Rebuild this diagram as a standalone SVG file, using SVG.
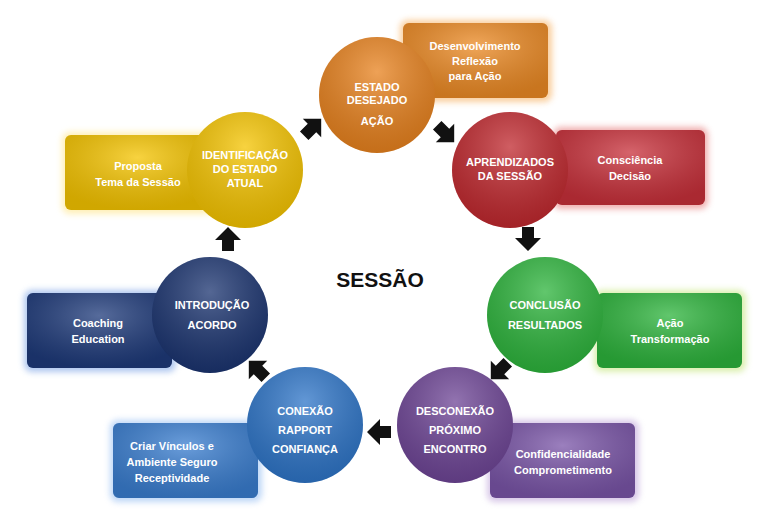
<svg xmlns="http://www.w3.org/2000/svg" width="768" height="529" viewBox="0 0 768 529">
<defs>
<filter id="glow" x="-20%" y="-20%" width="140%" height="140%"><feGaussianBlur stdDeviation="3"/></filter>
<radialGradient id="hl" cx="0.5" cy="0.3" r="0.7"><stop offset="0" stop-color="#fff" stop-opacity="0.25"/><stop offset="1" stop-color="#000" stop-opacity="0.15"/></radialGradient>
<polygon id="arr" points="-11,-6 0,-6 0,-13 13,0 0,13 0,6 -11,6"/>
</defs>
<style>
text{font-family:"Liberation Sans",Arial,sans-serif;font-weight:bold;fill:#fff;font-size:11px;text-anchor:middle}
.c{stroke:none}
.g{filter:url(#glow);opacity:0.5}
</style>
<rect width="768" height="529" fill="#fff"/>
<text x="380" y="287" style="fill:#111;font-size:21px">SESSÃO</text>
<g id="orange">
<rect class="g" x="400" y="20" width="152" height="82" rx="8" fill="#F5A040"/>
<rect x="403" y="23" width="145" height="75" rx="6" fill="#EC8A24"/><rect x="403" y="23" width="145" height="75" rx="6" fill="url(#hl)"/>
<text x="475" y="50">Desenvolvimento</text><text x="475" y="65">Reflexão</text><text x="475" y="80">para Ação</text>
<circle cx="377" cy="95" r="58" fill="#E8821E"/><circle cx="377" cy="95" r="58" fill="url(#hl)"/>
<text x="377" y="91">ESTADO</text><text x="377" y="104">DESEJADO</text><text x="377" y="125">AÇÃO</text>
</g>
<g id="red">
<rect class="g" x="553" y="127" width="155" height="82" rx="8" fill="#E06060"/>
<rect x="556" y="130" width="149" height="75" rx="6" fill="#C8303A"/><rect x="556" y="130" width="149" height="75" rx="6" fill="url(#hl)"/>
<text x="630" y="164">Consciência</text><text x="630" y="180">Decisão</text>
<circle cx="510" cy="170" r="58" fill="#C0282E"/><circle cx="510" cy="170" r="58" fill="url(#hl)"/>
<text x="510" y="166">APRENDIZADOS</text><text x="510" y="180">DA SESSÃO</text>
</g>
<g id="green">
<rect class="g" x="594" y="290" width="152" height="82" rx="8" fill="#B8E060"/>
<rect x="597" y="293" width="145" height="75" rx="6" fill="#2DB43C"/><rect x="597" y="293" width="145" height="75" rx="6" fill="url(#hl)"/>
<text x="670" y="327">Ação</text><text x="670" y="343">Transformação</text>
<circle cx="545" cy="315" r="58" fill="#2DB43C"/><circle cx="545" cy="315" r="58" fill="url(#hl)"/>
<text x="545" y="309">CONCLUSÃO</text><text x="545" y="329">RESULTADOS</text>
</g>
<g id="purple">
<rect class="g" x="487" y="420" width="152" height="82" rx="8" fill="#B090D0"/>
<rect x="490" y="423" width="145" height="75" rx="6" fill="#7A55A8"/><rect x="490" y="423" width="145" height="75" rx="6" fill="url(#hl)"/>
<text x="563" y="458">Confidencialidade</text><text x="563" y="474">Comprometimento</text>
<circle cx="455" cy="425" r="58" fill="#6E4596"/><circle cx="455" cy="425" r="58" fill="url(#hl)"/>
<text x="455" y="415">DESCONEXÃO</text><text x="455" y="434">PRÓXIMO</text><text x="455" y="453">ENCONTRO</text>
</g>
<g id="blue">
<rect class="g" x="110" y="420" width="152" height="82" rx="8" fill="#80B0F0"/>
<rect x="113" y="423" width="145" height="75" rx="6" fill="#3A7ED0"/><rect x="113" y="423" width="145" height="75" rx="6" fill="url(#hl)"/>
<text x="172" y="450">Criar Vínculos e</text><text x="172" y="466">Ambiente Seguro</text><text x="172" y="482">Receptividade</text>
<circle cx="305" cy="425" r="58" fill="#2E75C8"/><circle cx="305" cy="425" r="58" fill="url(#hl)"/>
<text x="305" y="415">CONEXÃO</text><text x="305" y="434">RAPPORT</text><text x="305" y="453">CONFIANÇA</text>
</g>
<g id="navy">
<rect class="g" x="24" y="290" width="152" height="82" rx="8" fill="#6090E0"/>
<rect x="27" y="293" width="145" height="75" rx="6" fill="#1E3A7A"/><rect x="27" y="293" width="145" height="75" rx="6" fill="url(#hl)"/>
<text x="98" y="327">Coaching</text><text x="98" y="343">Education</text>
<circle cx="210" cy="315" r="58" fill="#1B3470"/><circle cx="210" cy="315" r="58" fill="url(#hl)"/>
<text x="212" y="309">INTRODUÇÃO</text><text x="212" y="329">ACORDO</text>
</g>
<g id="yellow">
<rect class="g" x="62" y="132" width="152" height="82" rx="8" fill="#FFE070"/>
<rect x="65" y="135" width="145" height="75" rx="6" fill="#F5C400"/><rect x="65" y="135" width="145" height="75" rx="6" fill="url(#hl)"/>
<text x="138" y="170">Proposta</text><text x="138" y="186">Tema da Sessão</text>
<circle cx="245" cy="170" r="58" fill="#F5C400"/><circle cx="245" cy="170" r="58" fill="url(#hl)"/>
<text x="245" y="159">IDENTIFICAÇÃO</text><text x="245" y="173">DO ESTADO</text><text x="245" y="187">ATUAL</text>
</g>
<g id="connectors" fill="#111">
<use href="#arr" transform="translate(312,128) rotate(-45)"/>
<use href="#arr" transform="translate(445,133) rotate(45)"/>
<use href="#arr" transform="translate(528,238) rotate(90)"/>
<use href="#arr" transform="translate(500,370) rotate(135)"/>
<use href="#arr" transform="translate(380,432) rotate(180)"/>
<use href="#arr" transform="translate(258,370) rotate(-135)"/>
<use href="#arr" transform="translate(228,240) rotate(-90)"/>
</g>
</svg>
